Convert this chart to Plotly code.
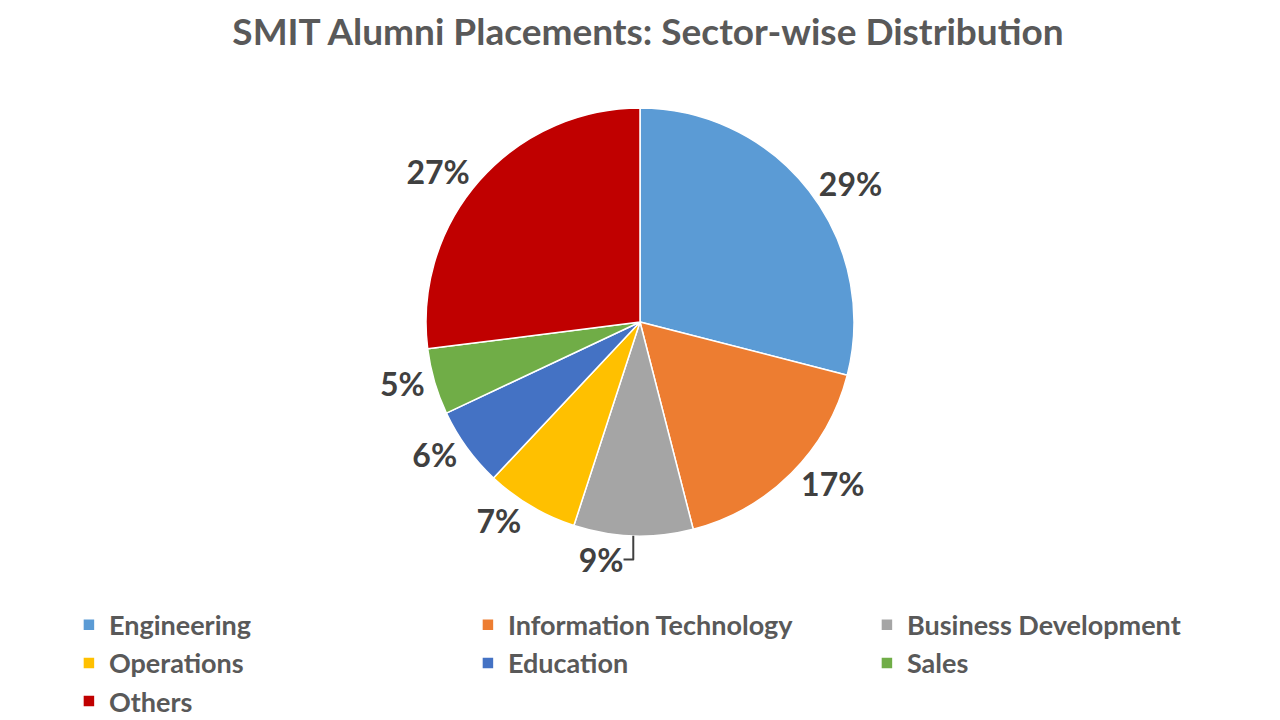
import plotly.graph_objects as go

sectors = ["Engineering", "Information Technology", "Business Development",
           "Operations", "Education", "Sales", "Others"]
shares = [29, 17, 9, 7, 6, 5, 27]
colors = ["#5B9BD5", "#ED7D31", "#A5A5A5", "#FFC000", "#4472C4", "#70AD47", "#C00000"]

fig = go.Figure(go.Pie(
    labels=sectors,
    values=shares,
    sort=False,
    direction="clockwise",
    rotation=0,
    marker=dict(colors=colors, line=dict(color="white", width=1.5)),
    textinfo="percent",
    texttemplate="%{percent:.0%}",
    textposition="outside",
    textfont=dict(family="Lato", size=32, color="#404040", weight="bold"),
    domain=dict(x=[0, 0.9875], y=[0.2667, 0.8611]),
    hoverinfo="label+percent",
))

fig.update_layout(
    width=1280, height=720,
    paper_bgcolor="white", plot_bgcolor="white",
    margin=dict(l=0, r=0, t=0, b=0, autoexpand=False),
    title=dict(text="<b>SMIT Alumni Placements: Sector-wise Distribution</b>",
               x=0.5, xanchor="center", y=0.966, yanchor="middle",
               font=dict(family="Lato", size=37, color="#595959")),
    legend=dict(orientation="h", x=0.0476, xanchor="left", y=0.1767, yanchor="top",
                entrywidth=354, entrywidthmode="pixels", tracegroupgap=0,
                bgcolor="rgba(0,0,0,0)",
                itemclick=False,
                font=dict(family="Lato", size=27, color="#595959", weight="bold")),
    showlegend=True,
)

fig.write_html("out.html")
